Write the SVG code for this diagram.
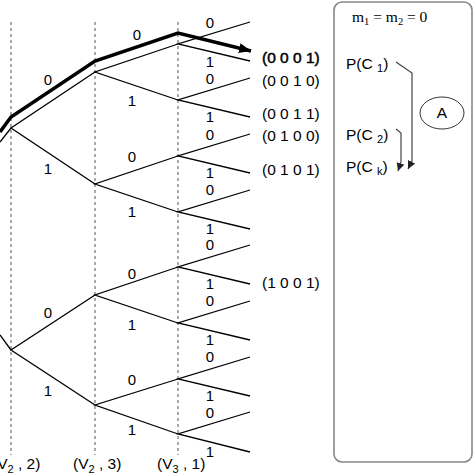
<svg xmlns="http://www.w3.org/2000/svg" width="474" height="474" viewBox="0 0 474 474">
<style>
.dash{stroke:#555;stroke-width:1;stroke-dasharray:3 3;fill:none}
.edge{stroke:#000;stroke-width:1.3;fill:none}
.thick{stroke:#000;stroke-width:3.5;fill:none;stroke-linejoin:miter}
.conn{stroke:#444;stroke-width:1.2;fill:none}
.d{font-family:"Liberation Sans",Arial,sans-serif;font-size:15px;text-anchor:middle;fill:#000}
.lab{font-family:"Liberation Sans",Arial,sans-serif;font-size:15.5px;fill:#000}
.ser{font-family:"Liberation Serif","Times New Roman",serif;font-size:15.5px;fill:#000}
</style>
<defs>
<marker id="bigArrow" markerUnits="userSpaceOnUse" markerWidth="14" markerHeight="12" refX="12" refY="5" orient="auto">
<path d="M0,0 L12,5 L0,10 Z" fill="#000"/>
</marker>
<marker id="smallArrow" markerUnits="userSpaceOnUse" markerWidth="10" markerHeight="10" refX="8" refY="4" orient="auto">
<path d="M0,0 L8,4 L0,8 Z" fill="#222"/>
</marker>
</defs>

<g id="guides">
<line class="dash" x1="11" y1="22" x2="11" y2="455"/>
<line class="dash" x1="95" y1="22" x2="95" y2="455"/>
<line class="dash" x1="178" y1="22" x2="178" y2="455"/>
</g>

<g id="connectors">
<line class="edge" x1="0" y1="142" x2="11" y2="128"/>
<line class="edge" x1="0" y1="335" x2="11" y2="350"/>
<polyline class="edge" points="95,72 11,128 95,184"/>
<polyline class="edge" points="178,44 95,72 178,100"/>
<polyline class="edge" points="178,156 95,184 178,212"/>
<polyline class="edge" points="250,22 178,44 250,61"/>
<polyline class="edge" points="250,78 178,100 250,117"/>
<polyline class="edge" points="250,134 178,156 250,173"/>
<polyline class="edge" points="250,190 178,212 250,229"/>
<polyline class="edge" points="95,295 11,350 95,405"/>
<polyline class="edge" points="178,267 95,295 178,323"/>
<polyline class="edge" points="178,379 95,405 178,434"/>
<polyline class="edge" points="250,245 178,267 250,284"/>
<polyline class="edge" points="250,301 178,323 250,340"/>
<polyline class="edge" points="250,357 178,379 250,396"/>
<polyline class="edge" points="250,412 178,434 250,452"/>
<polyline class="thick" points="0,132 11,117 95,61 178,33 251,51" marker-end="url(#bigArrow)"/>
<polyline class="conn" points="396,62 412,73 412,161 408,169" marker-end="url(#smallArrow)"/>
<polyline class="conn" points="396,129 401,133 401,162 398,171" marker-end="url(#smallArrow)"/>
</g>

<g id="edge-labels">
<text class="d" x="48" y="85">0</text>
<text class="d" x="48" y="174">1</text>
<text class="d" x="137" y="40">0</text>
<text class="d" x="132" y="106">1</text>
<text class="d" x="132" y="162">0</text>
<text class="d" x="132" y="217">1</text>
<text class="d" x="210" y="28">0</text>
<text class="d" x="210" y="67">1</text>
<text class="d" x="210" y="84">0</text>
<text class="d" x="210" y="122">1</text>
<text class="d" x="210" y="140">0</text>
<text class="d" x="210" y="178">1</text>
<text class="d" x="210" y="195">0</text>
<text class="d" x="210" y="234">1</text>
<text class="d" x="48" y="318">0</text>
<text class="d" x="48" y="396">1</text>
<text class="d" x="132" y="279">0</text>
<text class="d" x="132" y="330">1</text>
<text class="d" x="132" y="385">0</text>
<text class="d" x="132" y="435">1</text>
<text class="d" x="210" y="250">0</text>
<text class="d" x="210" y="289">1</text>
<text class="d" x="210" y="306">0</text>
<text class="d" x="210" y="345">1</text>
<text class="d" x="210" y="362">0</text>
<text class="d" x="210" y="401">1</text>
<text class="d" x="210" y="418">0</text>
<text class="d" x="210" y="457">1</text>
</g>

<g id="leaf-labels">
<text class="lab" x="262" y="63" stroke="#000" stroke-width="0.5">(0 0 0 1)</text>
<text class="lab" x="262" y="86">(0 0 1 0)</text>
<text class="lab" x="262" y="119">(0 0 1 1)</text>
<text class="lab" x="262" y="141">(0 1 0 0)</text>
<text class="lab" x="262" y="175">(0 1 0 1)</text>
<text class="lab" x="262" y="288">(1 0 0 1)</text>
</g>

<g id="level-labels">
<text class="lab" x="-8" y="469">(V<tspan font-size="11" dy="4">2</tspan><tspan dy="-4"> , 2)</tspan></text>
<text class="lab" x="73" y="469">(V<tspan font-size="11" dy="4">2</tspan><tspan dy="-4"> , 3)</tspan></text>
<text class="lab" x="157" y="469">(V<tspan font-size="11" dy="4">3</tspan><tspan dy="-4"> , 1)</tspan></text>
</g>

<g id="panel">
<rect x="334" y="2" width="138" height="460" rx="8" ry="8" fill="none" stroke="#888" stroke-width="1.6"/>
<text class="ser" x="352" y="22">m<tspan font-size="10.5" dy="3">1</tspan><tspan dy="-3"> = m</tspan><tspan font-size="10.5" dy="3">2</tspan><tspan dy="-3"> = 0</tspan></text>
<text class="lab" x="346" y="69">P(C <tspan font-size="11" dy="3">1</tspan><tspan dy="-3">)</tspan></text>
<text class="lab" x="346" y="140">P(C <tspan font-size="11" dy="3">2</tspan><tspan dy="-3">)</tspan></text>
<text class="lab" x="346" y="172">P(C <tspan font-size="11" dy="3">k</tspan><tspan dy="-3">)</tspan></text>
</g>

<g id="node-A">
<ellipse cx="442" cy="113" rx="22" ry="16" fill="none" stroke="#333" stroke-width="1"/>
<text class="lab" x="442" y="118" text-anchor="middle">A</text>
</g>
</svg>
